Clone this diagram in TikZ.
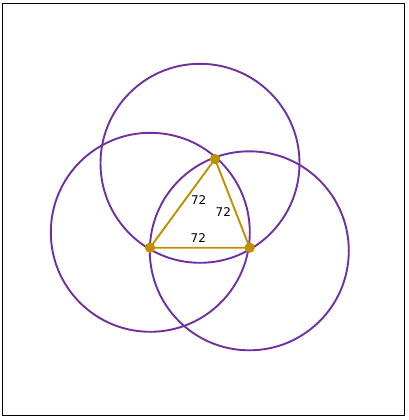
\documentclass[tikz,border=0pt]{standalone}
\usepackage{fontspec}
\setmainfont{DejaVu Sans}
\usepackage{tikz}
\usepackage{xcolor}
\definecolor{ringcol}{RGB}{112,48,160}
\definecolor{sidecol}{RGB}{191,144,0}

\begin{document}
\begin{tikzpicture}[
    x = 1pt, y = -1pt,
    ring/.style = {draw = ringcol, line width = 1.9pt},
    side/.style = {draw = sidecol, line width = 1.9pt},
    vertex/.style = {circle, fill = sidecol, inner sep = 0pt, minimum size = 10pt},
    len/.style = {font = \fontsize{12}{13}\selectfont, inner sep = 0pt}
    ]
    \useasboundingbox (0,0) rectangle (409,420);
    \draw[line width = 1.2pt] (2.7,3.3) rectangle (404.7,415.3);
    % circles
    \draw[ring] (150.3,232.3) circle [radius = 99.5pt];
    \draw[ring] (200,163.3) circle [radius = 99.5pt];
    \draw[ring] (249.3,250.8) circle [radius = 99.5pt];
    % triangle
    \node[vertex] (a) at (150,247.7) {};
    \node[vertex] (b) at (249.7,247.7) {};
    \node[vertex] (c) at (215,159) {};
    \draw[side] (a.center) -- (b.center) -- (c.center) -- cycle;
    \node[vertex] at (a) {};
    \node[vertex] at (b) {};
    \node[vertex] at (c) {};
    \node[len] (ac) at (198.7,200) {72};
    \node[len] (cb) at (223.3,212) {72};
    \node[len] (ab) at (198.3,238) {72};
\end{tikzpicture}
\end{document}
